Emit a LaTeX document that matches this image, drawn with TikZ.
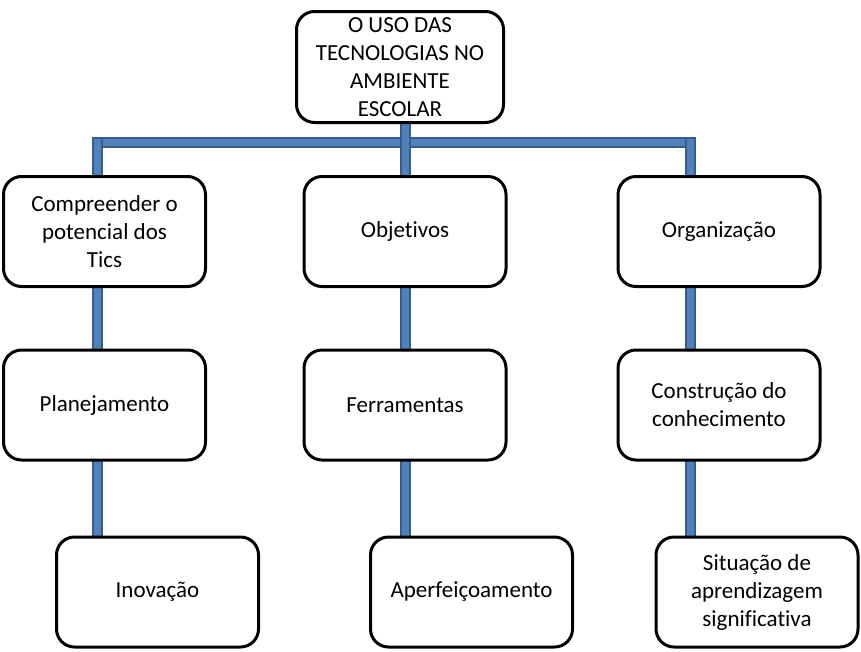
\documentclass[tikz,border=0pt]{standalone}
\usepackage{fontspec}
\setmainfont{Carlito}[Ligatures=NoCommon]
\usepackage{tikz}
\usetikzlibrary{backgrounds}
\usetikzlibrary{positioning}
\definecolor{barfill}{RGB}{79,129,189}
\definecolor{baredge}{RGB}{56,93,138}

\begin{document}
\begin{tikzpicture}[x=1pt,y=-1pt]
	\useasboundingbox (0,0) rectangle (861,651);
	\begin{scope}[every node/.style={draw, line width=3pt, rounded corners=18pt, fill=white,
	              align=center, minimum width=202pt, minimum height=110pt, inner sep=0pt,
	              font=\fontsize{23}{28}\selectfont}]
		\node[minimum width=207pt, minimum height=111pt] (uso) at (400,67) {O USO DAS\\TECNOLOGIAS NO\\AMBIENTE\\ESCOLAR};
		\node (compr) at (104.5,231.5) {Compreender o\\potencial dos\\Tics};
		\node (obj) at (405,231.5) {Objetivos};
		\node (org) at (719,231.5) {Organização};
		\node (plan) at (104.5,405) {Planejamento};
		\node (ferr) at (405,405) {Ferramentas};
		\node (constr) at (719,405) {Construção do\\conhecimento};
		\node (inov) at (157.5,592) {Inovação};
		\node (aperf) at (471.5,592) {Aperfeiçoamento};
		\node (sit) at (757,592) {Situação de\\aprendizagem\\significativa};
	\end{scope}
	\coordinate (hub) at (405,142);
	\coordinate (colA) at (97,142);
	\coordinate (colC) at (690,142);
	% blue bars behind the boxes
	\begin{scope}[on background layer,
	              every path/.style={draw=baredge, line width=2pt, double=barfill, double distance=7pt, line cap=rect}]
		\draw (colA) -- (colC);
		\draw (uso.south -| hub) -- (obj.north -| hub);
		\draw (colA) -- (compr.north -| colA);
		\draw (colC) -- (org.north -| colC);
		\draw (compr.south -| colA) -- (plan.north -| colA);
		\draw (obj.south -| hub) -- (ferr.north -| hub);
		\draw (org.south -| colC) -- (constr.north -| colC);
		\draw (plan.south -| colA) -- (inov.north -| colA);
		\draw (ferr.south -| hub) -- (aperf.north -| hub);
		\draw (constr.south -| colC) -- (sit.north -| colC);
	\end{scope}
\end{tikzpicture}
\end{document}
